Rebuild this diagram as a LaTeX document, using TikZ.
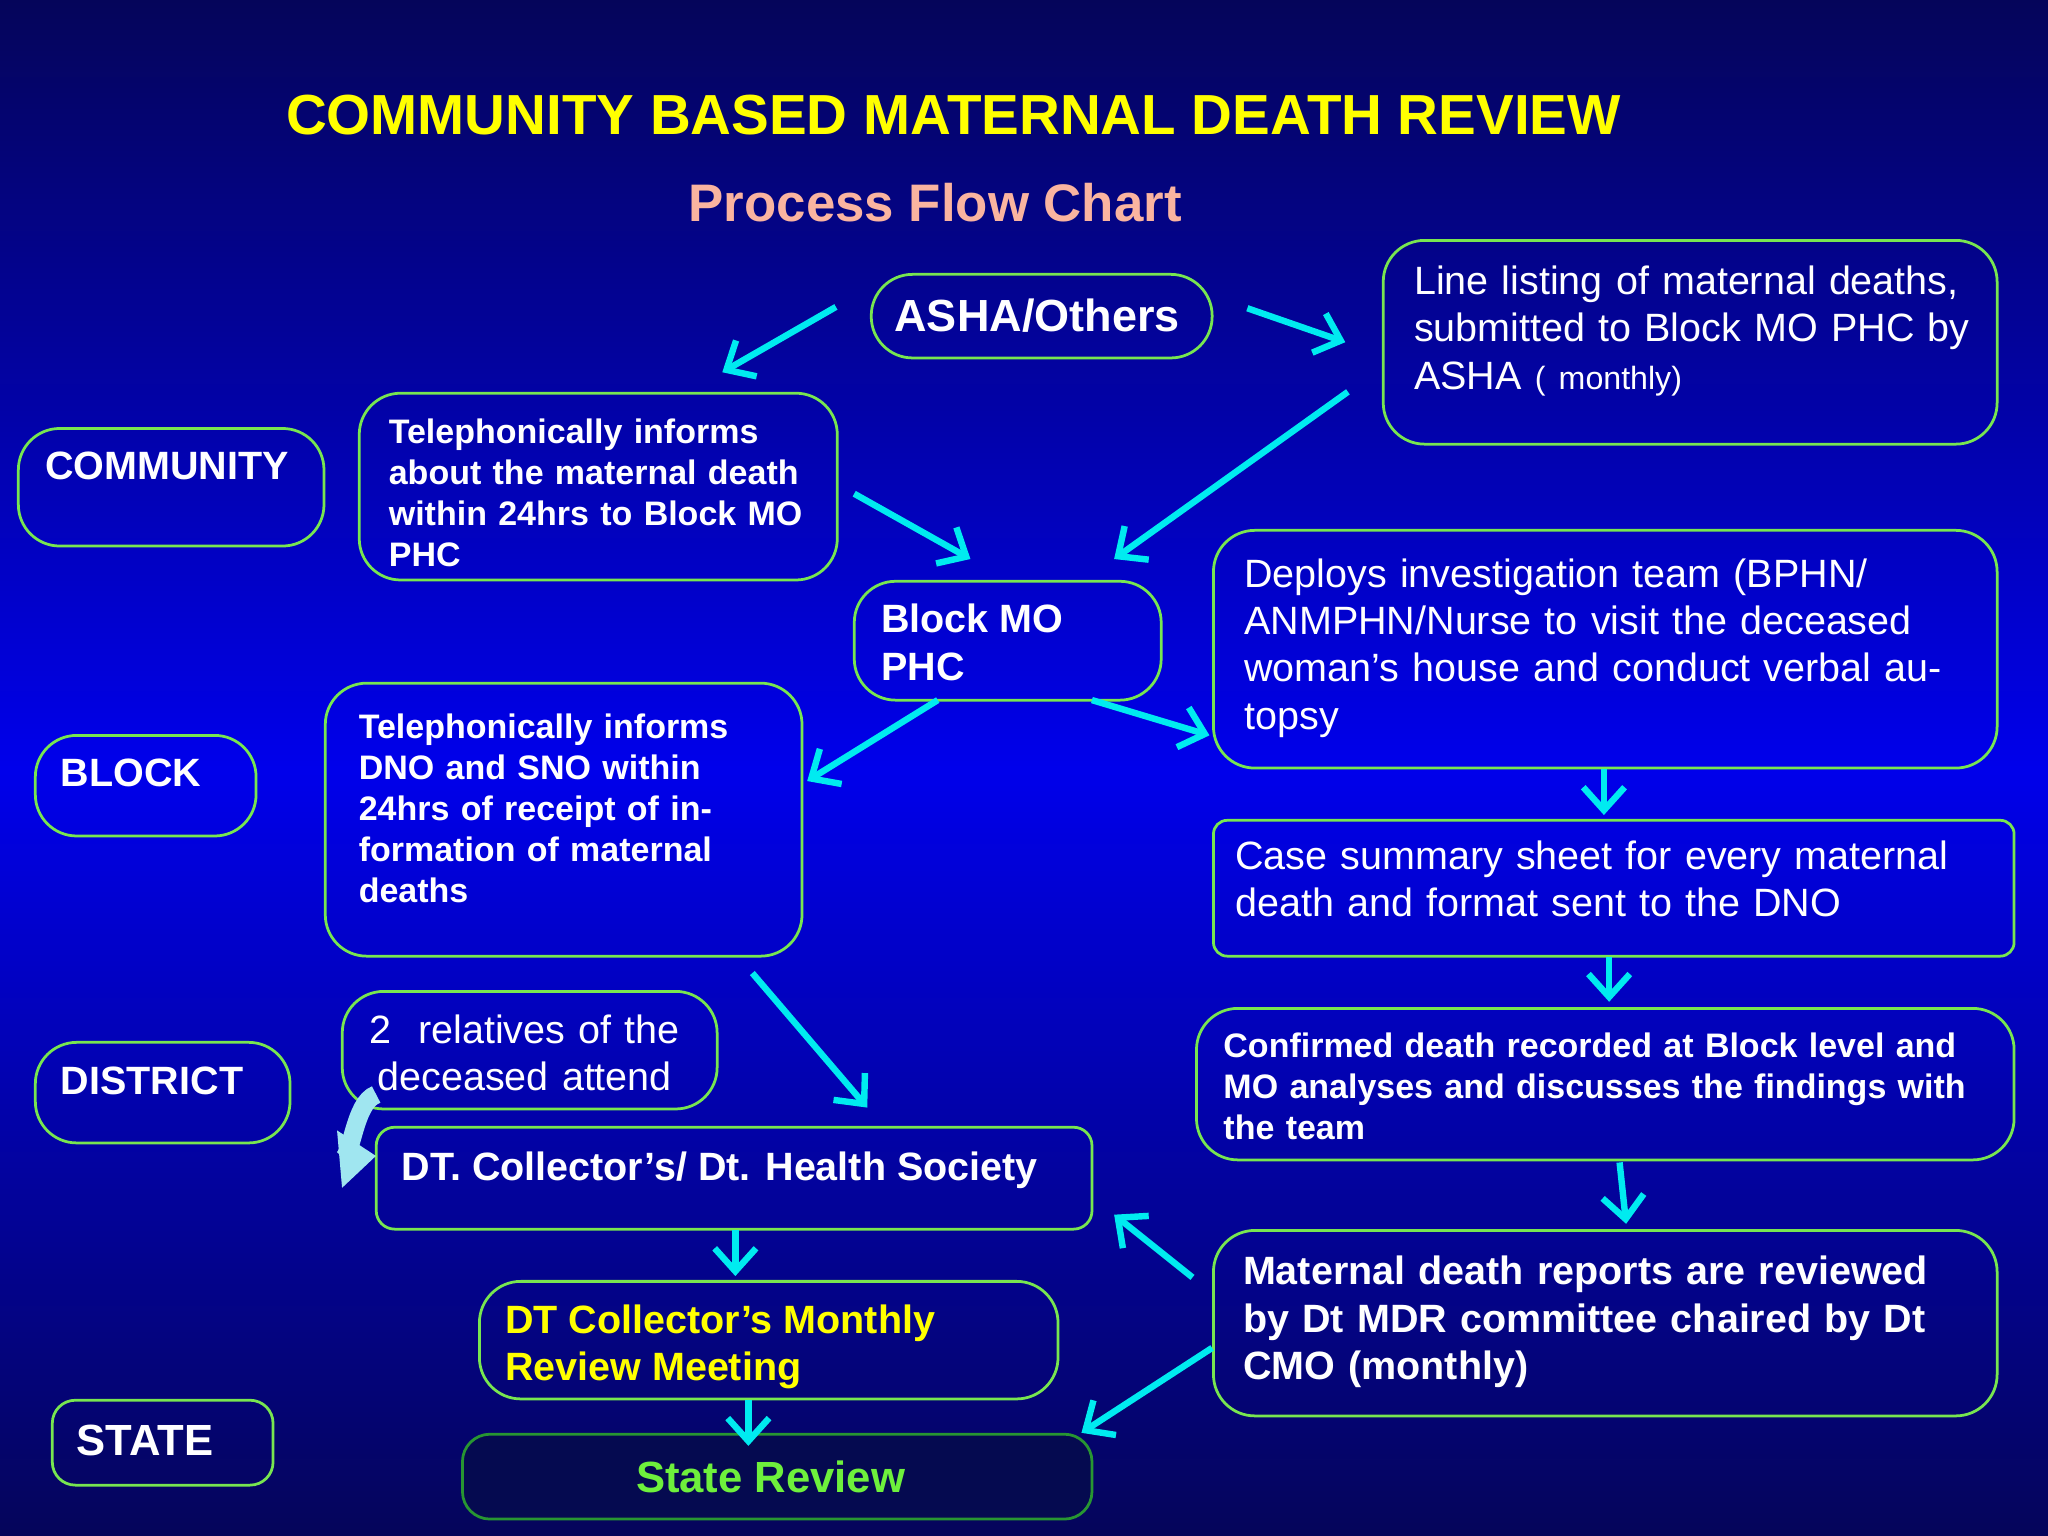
\documentclass[tikz,border=0pt]{standalone}
\usepackage{fontspec}
\setmainfont{Liberation Sans}
\usetikzlibrary{arrows.meta}
\definecolor{bord}{RGB}{120,230,80}
\definecolor{arr}{RGB}{0,235,240}
\definecolor{ttl}{RGB}{255,255,0}
\definecolor{sub}{RGB}{250,180,160}
\definecolor{lgreen}{RGB}{110,240,60}
\begin{document}
\begin{tikzpicture}[x=0.01cm,y=-0.01cm,
  box/.style={draw=bord,line width=0.6pt,rounded corners=9pt,anchor=north west,inner sep=0pt},
  wh/.style 2 args={minimum width=#1*0.01cm,minimum height=#2*0.01cm},
  tb/.style={text=white,anchor=north west,align=left,inner sep=0pt,font=\fontsize{7.4}{8.9}\selectfont\bfseries},
  tr/.style={text=white,anchor=north west,align=left,inner sep=0pt,font=\fontsize{8.6}{10.3}\selectfont},
  tB/.style={text=white,anchor=north west,align=left,inner sep=0pt,font=\fontsize{8.6}{10.3}\selectfont\bfseries},
  ar/.style={draw=arr,line width=1.4pt,-{Straight Barb[length=5pt,width=9pt,line width=1.4pt]}}]
\useasboundingbox (0,0) rectangle (1568,1176);
\shade[top color={rgb,255:red,5;green,5;blue,90},bottom color={rgb,255:red,0;green,0;blue,235}] (0,0) rectangle (1568,588);
\shade[top color={rgb,255:red,0;green,0;blue,235},bottom color={rgb,255:red,5;green,5;blue,90}] (0,587) rectangle (1568,1176);
\node[font=\fontsize{12.3}{14}\selectfont\bfseries,text=ttl] (t1) at (730,88) {COMMUNITY BASED MATERNAL DEATH REVIEW};
\node[font=\fontsize{11.5}{14}\selectfont\bfseries,text=sub] (t2) at (716,155) {Process Flow Chart};
\node[box,wh={261}{64}] (asha) at (666,209) {};
\node[text=white,font=\fontsize{9.8}{12}\selectfont\bfseries] (ashat) at (794,242) {ASHA/Others};
\node[box,wh={470}{156}] (line) at (1058,183) {};
\node[tr,text width=4.4cm] (linet) at (1082,203) {Line listing of maternal deaths, submitted to Block MO PHC by ASHA {\fontsize{7}{8}\selectfont( monthly)}};
\node[box,wh={234}{90}] (comm) at (13,327) {};
\node[tB] (commt) at (34,345) {COMMUNITY};
\node[box,wh={366}{143}] (tel1) at (274,300) {};
\node[tb,text width=3.3cm] (tel1t) at (297,320) {Telephonically informs about the maternal death within 24hrs to Block MO PHC};
\node[box,wh={235}{91}] (bmo) at (653,444) {};
\node[tB] (bmot) at (674,462) {Block MO\\PHC};
\node[box,wh={600}{182}] (dep) at (928,405) {};
\node[tr,text width=5.5cm] (dept) at (952,427) {Deploys investigation team (BPHN/ ANMPHN/Nurse to visit the deceased woman’s house and conduct verbal autopsy};
\node[box,wh={169}{77}] (blk) at (26,562) {};
\node[tB] (blkt) at (46,580) {BLOCK};
\node[box,wh={365}{209}] (tel2) at (248,522) {};
\node[tb,text width=3.2cm] (tel2t) at (274,546) {Telephonically informs DNO and SNO within 24hrs of receipt of information of maternal deaths};
\node[box,rounded corners=3pt,wh={613}{104}] (cas) at (928,627) {};
\node[tr,text width=5.7cm] (cast) at (945,643) {Case summary sheet for every maternal death and format sent to the DNO};
\node[box,wh={287}{90}] (rel) at (261,758) {};
\node[tr,text width=2.7cm,align=center] (relt) at (266,776) {2\ \ relatives of the deceased attend};
\node[box,wh={195}{77}] (dis) at (26,797) {};
\node[tB] (dist) at (46,816) {DISTRICT};
\node[box,wh={626}{116}] (conf) at (915,771) {};
\node[tb,text width=6cm] (conft) at (936,790) {Confirmed death recorded at Block level and MO analyses and discusses the findings with the team};
\node[box,rounded corners=4pt,wh={548}{78}] (dtc) at (287,862) {};
\node[tB] (dtct) at (307,881) {DT. Collector’s/ Dt. Health Society};
\node[box,wh={600}{142}] (mat) at (928,941) {};
\node[tB,text width=5.6cm] (matt) at (951,961) {Maternal death reports are reviewed by Dt MDR committee chaired by Dt CMO (monthly)};
\node[box,wh={443}{90}] (mon) at (366,980) {};
\node[tB,text=ttl] (mont) at (386,998) {DT Collector’s Monthly\\Review Meeting};
\node[box,rounded corners=5pt,wh={169}{65}] (st) at (39,1071) {};
\node[tB,font=\fontsize{9.5}{11}\selectfont\bfseries] (stt) at (58,1090) {STATE};
\node[box,fill={rgb,255:red,5;green,10;blue,80},draw={rgb,255:red,40;green,150;blue,50},rounded corners=6pt,wh={482}{65}] (sr) at (353,1097) {};
\node[text=lgreen,font=\fontsize{9.5}{11}\selectfont\bfseries] (srt) at (590,1131) {State Review};
\coordinate (a1) at (640,235); \coordinate (b1) at (553,285);
\coordinate (a2) at (955,236); \coordinate (b2) at (1030,262);
\coordinate (a3) at (1032,300); \coordinate (b3) at (853,428);
\coordinate (a4) at (654,378); \coordinate (b4) at (743,428);
\coordinate (a5) at (718,536); \coordinate (b5) at (618,598);
\coordinate (a6) at (836,536); \coordinate (b6) at (926,563);
\coordinate (a7) at (1228,589); \coordinate (b7) at (1228,624);
\coordinate (a8) at (1232,733); \coordinate (b8) at (1232,767);
\coordinate (a9) at (1240,890); \coordinate (b9) at (1245,937);
\coordinate (a10) at (576,745); \coordinate (b10) at (664,848);
\coordinate (a11) at (563,942); \coordinate (b11) at (563,977);
\coordinate (a12) at (573,1072); \coordinate (b12) at (573,1107);
\coordinate (a13) at (913,978); \coordinate (b13) at (853,930);
\coordinate (a14) at (928,1032); \coordinate (b14) at (828,1097);
\foreach \i in {1,...,14} {\draw[ar] (a\i) -- (b\i);}
\coordinate (c1) at (288,838); \coordinate (c2) at (288,885);
\draw[draw={rgb,255:red,160;green,230;blue,240},line width=4pt,-{Triangle[length=8pt,width=12pt]}] (c1) to[out=200,in=185] (c2);
\end{tikzpicture}
\end{document}
